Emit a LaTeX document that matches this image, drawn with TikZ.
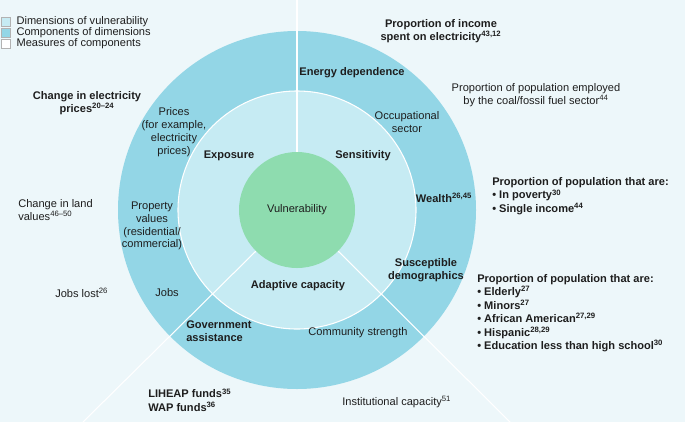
\documentclass[tikz,border=0pt]{standalone}
\usepackage{fontspec}
\setmainfont{Liberation Sans}
\usepackage{xcolor}
\usepackage{tikz}
\usetikzlibrary{positioning,calc}

\definecolor{bgcol}{HTML}{EDF7FA}
\definecolor{outercol}{HTML}{93D6E6}
\definecolor{innercol}{HTML}{C6EBF3}
\definecolor{coremint}{HTML}{8EDCAF}
\definecolor{inkcol}{HTML}{1E1E1E}

\begin{document}
\begin{tikzpicture}[
      x=0.75pt, y=-0.75pt,
      txt/.style={font=\fontsize{8.3}{9.6}\selectfont, text=inkcol, align=center, inner sep=0pt},
      boldtxt/.style={txt, font=\fontsize{8.3}{9.6}\selectfont\bfseries},
      listtxt/.style={txt, align=left, font=\fontsize{8.3}{10.1}\selectfont\bfseries},
      ring/.style={circle, inner sep=0pt},
      divider/.style={white, line width=0.8pt},
      legbox/.style={draw=gray!60, line width=0.4pt, minimum size=6.8pt, inner sep=0pt}
  ]

  %% ---- Background ----
  \fill[bgcol] (0,0) rectangle (685,422);
  \useasboundingbox (0,0) rectangle (685,422);

  %% ---- Rings ----
  \node[ring, fill=outercol, minimum size=268.5pt] (outer) at (297,210) {};
  \node[ring, fill=innercol, draw=white, line width=0.8pt, minimum size=178.5pt] (inner) at (297,210) {};
  \node[ring, fill=coremint, minimum size=87pt] (core) at (297,210) {};

  %% ---- Sector dividers ----
  \coordinate (topend) at (297,0);
  \coordinate (leftend) at (83,422);
  \coordinate (rightend) at (510,422);
  \draw[divider] (core.north) -- (topend);
  \draw[divider] (core.225) -- (leftend);
  \draw[divider] (core.-45) -- (rightend);

  %% ---- Legend ----
  \node[legbox, fill=innercol] (legdim) at (5.5,22) {};
  \node[legbox, fill=outercol] (legcomp) at (5.5,33) {};
  \node[legbox, fill=white] (legmeas) at (5.5,44) {};
  \node[txt, anchor=west, right=4.5pt of legdim] (legdimtxt) {Dimensions of vulnerability};
  \node[txt, anchor=west, right=4.5pt of legcomp] (legcomptxt) {Components of dimensions};
  \node[txt, anchor=west, right=4.5pt of legmeas] (legmeastxt) {Measures of components};

  %% ---- Core and dimensions ----
  \node[txt] (vuln) at (core) {Vulnerability};
  \node[boldtxt] (exposure) at (229,156) {Exposure};
  \node[boldtxt] (sensit) at (363,156) {Sensitivity};
  \node[boldtxt] (adaptive) at (298,286) {Adaptive capacity};

  %% ---- Components (outer ring) ----
  \node[boldtxt] (energydep) at (352,73) {Energy dependence};
  \node[txt] (occup) at (407,122) {Occupational\\sector};
  \node[boldtxt] (wealth) at (444,198) {Wealth\textsuperscript{26,45}};
  \node[boldtxt] (suscept) at (426,270) {Susceptible\\demographics};
  \node[txt] (prices) at (174,132) {Prices\\(for example,\\electricity\\prices)};
  \node[txt] (property) at (152,226) {Property\\values\\(residential/\\commercial)};
  \node[txt] (jobs) at (167,293) {Jobs};
  \node[boldtxt, align=left, anchor=west] (govassist) at (186,331) {Government\\assistance};
  \node[txt] (community) at (358,333) {Community strength};

  %% ---- Measures (outside) ----
  \node[boldtxt] (income) at (441,31)
      {Proportion of income\\spent on electricity\textsuperscript{43,12}};
  \node[txt] (coaljobs) at (536,95)
      {Proportion of population employed\\by the coal/fossil fuel sector\textsuperscript{44}};
  \node[listtxt, anchor=west] (poverty) at (492,196)
      {Proportion of population that are:\\\textbullet\ In poverty\textsuperscript{30}\\\textbullet\ Single income\textsuperscript{44}};
  \node[listtxt, anchor=west] (demog) at (477,313)
      {Proportion of population that are:\\\textbullet\ Elderly\textsuperscript{27}\\\textbullet\ Minors\textsuperscript{27}\\\textbullet\ African American\textsuperscript{27,29}\\\textbullet\ Hispanic\textsuperscript{28,29}\\\textbullet\ Education less than high school\textsuperscript{30}};
  \node[boldtxt] (elecprices) at (87,103) {Change in electricity\\prices\textsuperscript{20--24}};
  \node[txt, align=left, anchor=west] (landval) at (18,210) {Change in land\\values\textsuperscript{46--50}};
  \node[txt, anchor=west] (jobslost) at (55,293) {Jobs lost\textsuperscript{26}};
  \node[listtxt, anchor=west] (funds) at (148,400) {LIHEAP funds\textsuperscript{35}\\WAP funds\textsuperscript{36}};
  \node[txt, anchor=west] (instcap) at (342,402) {Institutional capacity\textsuperscript{51}};

\end{tikzpicture}
\end{document}
